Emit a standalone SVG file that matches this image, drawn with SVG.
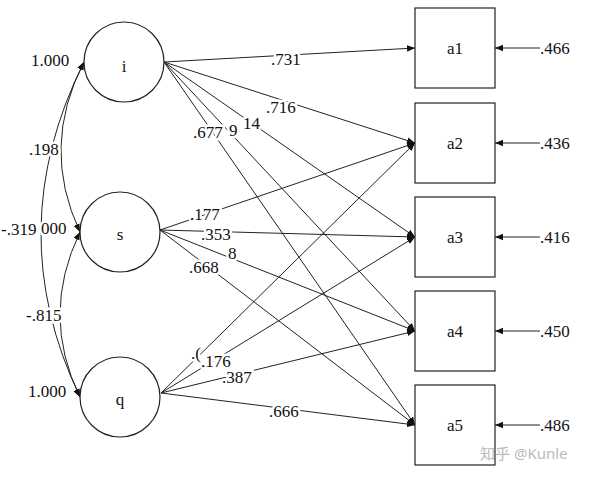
<svg xmlns="http://www.w3.org/2000/svg" width="600" height="478" viewBox="0 0 600 478">
<style>
.n{fill:#fff;stroke:#222;stroke-width:1.2}
.c line,.c path{stroke:#222;stroke-width:1;fill:none}
text{fill:#111;font-family:"Liberation Serif","Times New Roman","DejaVu Serif",serif;font-size:17px}
.l{paint-order:stroke;stroke:#fff;stroke-width:5px}
.m{text-anchor:middle}
</style>
<defs><marker id="a" viewBox="0 0 10 10" refX="10" refY="5" markerWidth="8" markerHeight="8" orient="auto-start-reverse" markerUnits="userSpaceOnUse"><path d="M0,1L10,5L0,9z" fill="#111"/></marker></defs>
<g class="c">
<line x1="164" y1="62" x2="415" y2="48" marker-end="url(#a)"/>
<line x1="164" y1="62" x2="415" y2="143" marker-end="url(#a)"/>
<line x1="164" y1="62" x2="415" y2="237" marker-end="url(#a)"/>
<line x1="164" y1="62" x2="415" y2="331" marker-end="url(#a)"/>
<line x1="164" y1="62" x2="415" y2="425" marker-end="url(#a)"/>
<line x1="160" y1="230" x2="415" y2="143" marker-end="url(#a)"/>
<line x1="160" y1="230" x2="415" y2="237" marker-end="url(#a)"/>
<line x1="160" y1="230" x2="415" y2="331" marker-end="url(#a)"/>
<line x1="160" y1="230" x2="415" y2="425" marker-end="url(#a)"/>
<line x1="161" y1="393" x2="415" y2="143" marker-end="url(#a)"/>
<line x1="161" y1="393" x2="415" y2="237" marker-end="url(#a)"/>
<line x1="161" y1="393" x2="415" y2="331" marker-end="url(#a)"/>
<line x1="161" y1="393" x2="415" y2="425" marker-end="url(#a)"/>
<line x1="540" y1="48" x2="495" y2="48" marker-end="url(#a)"/>
<line x1="540" y1="143" x2="495" y2="143" marker-end="url(#a)"/>
<line x1="540" y1="237" x2="495" y2="237" marker-end="url(#a)"/>
<line x1="540" y1="331" x2="495" y2="331" marker-end="url(#a)"/>
<line x1="540" y1="425" x2="495" y2="425" marker-end="url(#a)"/>
<path d="M84,62 Q40,147 80,232" marker-start="url(#a)" marker-end="url(#a)"/>
<path d="M84,62 Q0,230 80,397" marker-start="url(#a)" marker-end="url(#a)"/>
<path d="M80,232 Q40,315 80,397" marker-start="url(#a)" marker-end="url(#a)"/>
</g>
<g id="i"><circle class="n" cx="124" cy="62" r="40"/><text class="m" x="124" y="72">i</text></g>
<g id="s"><circle class="n" cx="120" cy="232" r="40"/><text class="m" x="120" y="240">s</text></g>
<g id="q"><circle class="n" cx="120" cy="397" r="40"/><text class="m" x="120" y="405">q</text></g>
<g id="a1"><rect class="n" x="415" y="8" width="80" height="80"/><text class="m" x="455" y="54">a1</text></g>
<g id="a2"><rect class="n" x="415" y="103" width="80" height="80"/><text class="m" x="455" y="149">a2</text></g>
<g id="a3"><rect class="n" x="415" y="197" width="80" height="80"/><text class="m" x="455" y="243">a3</text></g>
<g id="a4"><rect class="n" x="415" y="291" width="80" height="80"/><text class="m" x="455" y="337">a4</text></g>
<g id="a5"><rect class="n" x="415" y="385" width="80" height="80"/><text class="m" x="455" y="431">a5</text></g>
<g class="l">
<text x="271" y="65">.731</text>
<text x="266" y="113">.716</text>
<text x="243" y="129">14</text>
<text x="229" y="136">9</text>
<text x="193" y="138">.677</text>
<text x="190" y="220">.177</text>
<text x="201" y="240">.353</text>
<text x="228" y="259">8</text>
<text x="189" y="273">.668</text>
<text x="29" y="155">.198</text>
<text x="1" y="235">-.319</text>
<text x="41" y="234">000</text>
<text x="26" y="321">-.815</text>
<text x="31" y="66">1.000</text>
<text x="28" y="397">1.000</text>
<text x="191" y="359">.(</text>
<text x="201" y="367">.176</text>
<text x="222" y="383">.387</text>
<text x="269" y="417">.666</text>
</g>
<text x="540" y="54">.466</text>
<text x="540" y="149">.436</text>
<text x="540" y="243">.416</text>
<text x="540" y="337">.450</text>
<text x="540" y="431">.486</text>
<text x="480" y="459" style="font-family:'Noto Sans','Noto Sans CJK SC',sans-serif;font-size:15px;fill:#bbb">知乎 @Kunle</text>
</svg>
